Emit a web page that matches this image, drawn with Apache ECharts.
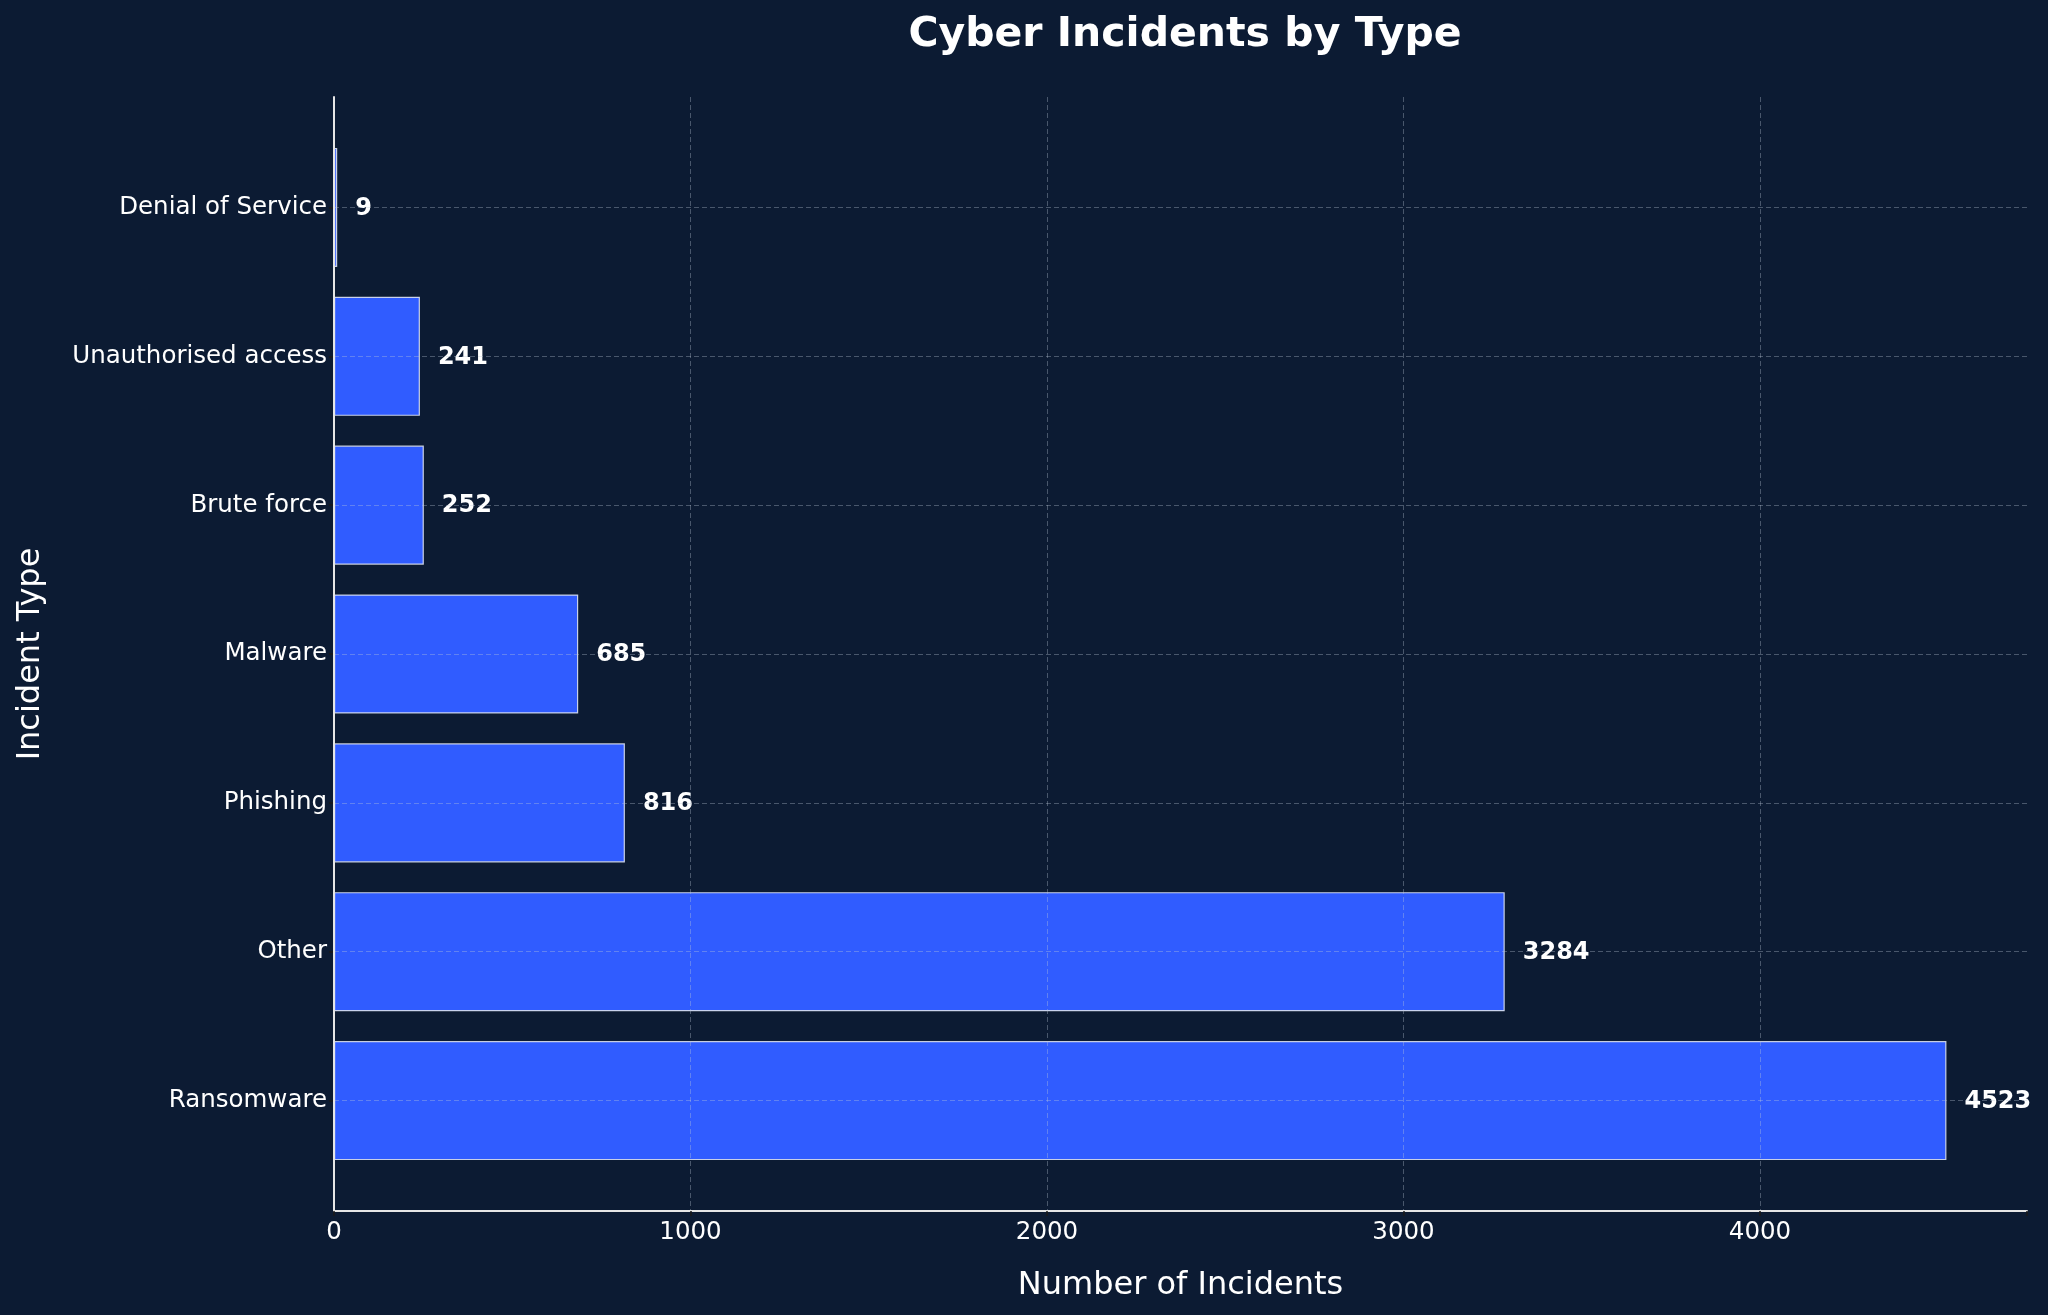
<!DOCTYPE html>
<html>
<head>
<meta charset="utf-8">
<script src="https://cdn.jsdelivr.net/npm/echarts@6/dist/echarts.min.js"></script>
<style>
  html, body { margin: 0; padding: 0; background: #0c1b33; }
  #chart { width: 2048px; height: 1315px; }
</style>
</head>
<body>
<div id="chart"></div>
<script>
const categories = ['Ransomware', 'Other', 'Phishing', 'Malware', 'Brute force', 'Unauthorised access', 'Denial of Service'];
const incidents = [4523, 3284, 816, 685, 252, 241, 9];
const xTicks = [0, 1000, 2000, 3000, 4000];
const xMax = 4749;

const FONT = 'DejaVu Sans';
const gridColor = 'rgba(190,200,215,0.35)';

const chart = echarts.init(document.getElementById('chart'), null, { renderer: 'canvas' });
chart.setOption({
  backgroundColor: '#0c1b33',
  animation: false,
  title: {
    text: 'Cyber Incidents by Type',
    left: 1180,
    top: 10,
    textAlign: 'center',
    textStyle: { color: '#ffffff', fontFamily: FONT, fontWeight: 'bold', fontSize: 41 }
  },
  grid: [
    { left: 334, right: 21, top: 97, bottom: 104, containLabel: false },
    { left: 334, right: 21, top: 133, bottom: 140, containLabel: false }
  ],
  xAxis: [
    {
      gridIndex: 0, type: 'value', min: 0, max: xMax, interval: 1000, z: 5,
      axisLine: { show: true, lineStyle: { color: '#e6e6e6', width: 2 } },
      axisTick: { show: true, length: 5, lineStyle: { color: '#1a1a1a', width: 1.5 } },
      axisLabel: {
        color: '#ffffff', fontFamily: FONT, fontSize: 24.5, margin: 9,
        formatter: v => xTicks.includes(v) ? String(v) : ''
      },
      splitLine: { show: true, showMaxLine: false, lineStyle: { color: gridColor, width: 1, type: [5, 3] } },
      name: 'Number of Incidents', nameLocation: 'middle', nameGap: 59,
      nameTextStyle: { color: '#ffffff', fontFamily: FONT, fontSize: 32 }
    },
    {
      gridIndex: 1, type: 'value', min: 0, max: xMax, show: false,
      splitLine: { show: false }
    }
  ],
  yAxis: [
    {
      gridIndex: 0, type: 'value', min: 0, max: 1, z: 5,
      axisLine: { show: true, lineStyle: { color: '#e6e6e6', width: 2 } },
      axisTick: { show: false }, axisLabel: { show: false }, splitLine: { show: false },
      name: 'Incident Type', nameLocation: 'middle', nameRotate: 90, nameGap: 287,
      nameTextStyle: { color: '#ffffff', fontFamily: FONT, fontSize: 32 }
    },
    {
      gridIndex: 1, type: 'category', data: categories,
      axisLine: { show: false },
      axisTick: { show: true, alignWithLabel: true, length: 5, lineStyle: { color: '#1a1a1a', width: 1.5 } },
      axisLabel: { color: '#ffffff', fontFamily: FONT, fontSize: 24.5, margin: 7, padding: [4, 0, 0, 0] },
      splitLine: { show: false }
    }
  ],
  series: [{
    type: 'bar',
    xAxisIndex: 1, yAxisIndex: 1,
    data: incidents,
    barWidth: '80%',
    z: 2,
    itemStyle: { color: '#305cff', borderColor: 'rgba(230,235,245,0.85)', borderWidth: 1.2 },
    label: {
      show: true, position: 'right', distance: 18, offset: [0, 1],
      color: '#ffffff', fontFamily: FONT, fontWeight: 'bold', fontSize: 24
    },
    markLine: {
      silent: true, symbol: 'none', animation: false,
      label: { show: false },
      lineStyle: { color: gridColor, width: 1, type: [5, 3] },
      data: categories.map(c => ({ yAxis: c }))
    }
  }]
});
</script>
</body>
</html>
